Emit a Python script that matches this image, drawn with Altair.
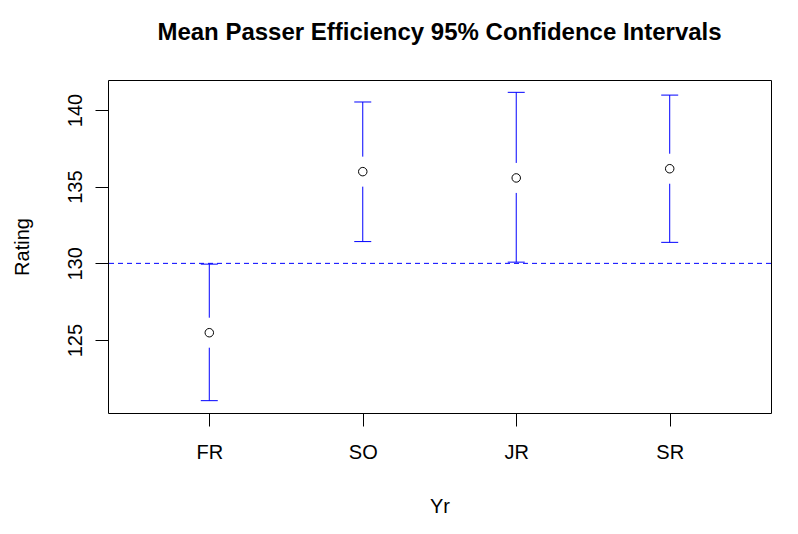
import json
import altair as alt
import pandas as pd

yr = ["FR", "SO", "JR", "SR"]
pos = [1, 2, 3, 4]
means = [125.48, 135.98, 135.57, 136.17]
lower = [121.05, 131.42, 130.08, 131.37]
upper = [129.95, 140.52, 141.15, 140.97]
ref_value = [130]
y_ticks = [125, 130, 135, 140]

df = pd.DataFrame({"Yr": yr, "pos": pos, "mean": means, "lower": lower, "upper": upper})
ref = pd.DataFrame({"ref": ref_value})

lo, hi = min(lower), max(upper)
ypad = 0.04 * (hi - lo)
ydom = [lo - ypad, hi + ypad]
xlo, xhi = 0.5, len(yr) + 0.5
xpad = 0.04 * (xhi - xlo)
xdom = [xlo - xpad, xhi + xpad]

FONT = "Liberation Sans"
BLUE = "#0000FF"

label_expr = json.dumps(yr) + "[datum.value - 1]"

x_enc = alt.X(
    "pos:Q",
    scale=alt.Scale(domain=xdom, nice=False, zero=False),
    axis=alt.Axis(
        values=pos, labelExpr=label_expr, title="Yr",
        tickSize=13, labelPadding=32, labelBaseline="alphabetic",
        labelFontSize=20, labelFont=FONT, labelColor="black",
        titleFontSize=20, titleFont=FONT, titleFontWeight="normal", titleColor="black",
        titleBaseline="alphabetic", titleY=99, titleX=331.5, titleAlign="center",
        domain=False, grid=False, tickColor="black", labelFlush=False,
    ),
)
y_scale = alt.Scale(domain=ydom, nice=False, zero=False)
y_axis = alt.Axis(
    values=y_ticks, title="Rating", labelAngle=270,
    tickSize=13, labelPadding=14, labelBaseline="alphabetic", labelAlign="center",
    labelFontSize=20, labelFont=FONT, labelColor="black",
    titleFontSize=20, titleFont=FONT, titleFontWeight="normal", titleColor="black",
    titleAngle=270, titleBaseline="alphabetic", titleAlign="center", titleX=-80, titleY=166.5,
    domain=False, grid=False, tickColor="black", labelFlush=False,
)

base = alt.Chart(df)

upper_seg = base.mark_rule(color=BLUE, strokeWidth=1, y2Offset=-15).encode(
    x=x_enc, y=alt.Y("upper:Q", scale=y_scale, axis=y_axis), y2="mean:Q"
)
lower_seg = base.mark_rule(color=BLUE, strokeWidth=1, yOffset=15).encode(
    x="pos:Q", y=alt.Y("mean:Q", scale=y_scale), y2="lower:Q"
)
cap_up = base.mark_rule(color=BLUE, strokeWidth=1, xOffset=-8.5, x2Offset=8.5).encode(
    x="pos:Q", x2="pos:Q", y=alt.Y("upper:Q", scale=y_scale)
)
cap_lo = base.mark_rule(color=BLUE, strokeWidth=1, xOffset=-8.5, x2Offset=8.5).encode(
    x="pos:Q", x2="pos:Q", y=alt.Y("lower:Q", scale=y_scale)
)
points = base.mark_point(shape="circle", filled=False, color="black", size=72, strokeWidth=1, opacity=1).encode(
    x="pos:Q", y=alt.Y("mean:Q", scale=y_scale)
)
ref_line = alt.Chart(ref).mark_rule(color=BLUE, strokeWidth=1, strokeDash=[5, 4]).encode(
    y=alt.Y("ref:Q", scale=y_scale)
)

chart = (
    alt.layer(ref_line, upper_seg, lower_seg, cap_up, cap_lo, points)
    .properties(
        width=663, height=333,
        autosize=alt.AutoSizeParams(type="none"),
        padding={"left": 100, "top": 72, "right": 19, "bottom": 113},
        title=alt.TitleParams(
            "Mean Passer Efficiency 95% Confidence Intervals",
            font=FONT, fontSize=24, fontWeight="bold", color="black",
            anchor="middle", frame="group", baseline="alphabetic", offset=16,
        ),
        background="white",
    )
    .configure_view(stroke="black", strokeWidth=1)
)

chart.save("out.html", embed_options={"renderer": "svg", "actions": False})
